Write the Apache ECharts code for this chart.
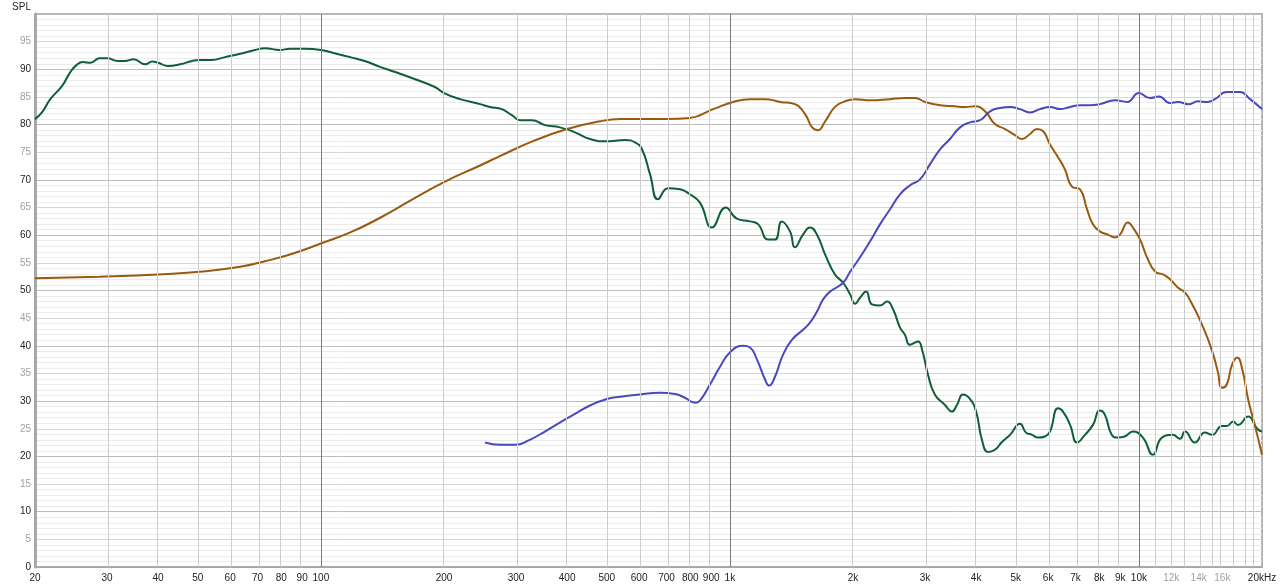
<!DOCTYPE html>
<html>
<head>
<meta charset="utf-8">
<script src="https://cdn.jsdelivr.net/npm/echarts@6/dist/echarts.min.js"></script>
<style>
  html, body { margin: 0; padding: 0; background: #fff; }
  #chart { width: 1280px; height: 587px; }
</style>
</head>
<body>
<div id="chart"></div>
<script>
// frequency ticks along the bottom (Hz) and their labels
const xTickFreqs = [20, 30, 40, 50, 60, 70, 80, 90, 100, 200, 300, 400, 500, 600, 700, 800, 900,
  1000, 2000, 3000, 4000, 5000, 6000, 7000, 8000, 9000, 10000, 12000, 14000, 16000, 20000]
const xTickLabels = ['20', '30', '40', '50', '60', '70', '80', '90', '100', '200', '300', '400', '500', '600', '700', '800', '900',
  '1k', '2k', '3k', '4k', '5k', '6k', '7k', '8k', '9k', '10k', '12k', '14k', '16k', '20kHz']
const fadedLabels = ['12k', '14k', '16k']

// vertical grid lines; decades drawn darker
const gridFreqs = [30, 40, 50, 60, 70, 80, 90, 100, 200, 300, 400, 500, 600, 700, 800, 900,
  1000, 2000, 3000, 4000, 5000, 6000, 7000, 8000, 9000, 10000,
  11000, 12000, 13000, 14000, 15000, 16000, 17000, 18000, 19000]
const decadeFreqs = [100, 1000, 10000]

// woofer (green)
const wooferFreq = [
  20, 20.8, 21.8, 23.3, 24.4, 25.3, 26.2, 27.3, 28.8, 30,
  31.9, 33.2, 34.8, 37.2, 38.7, 40, 42.3, 45.3, 48.4, 50.6,
  54, 58.3, 63.5, 69, 73, 79.4, 84, 91.4, 100, 108,
  118, 128, 140, 152, 170, 190, 200, 219, 245, 259,
  277, 293, 307, 328, 353, 384, 418, 455, 496, 555,
  586, 610, 638, 667, 706, 755, 798, 845, 904, 977,
  1040, 1120, 1172, 1240, 1289, 1340, 1403, 1442, 1509, 1570,
  1633, 1710, 1807, 1892, 1968, 2024, 2081, 2153, 2225, 2330,
  2422, 2506, 2606, 2679, 2754, 2884, 2951, 3050, 3170, 3357,
  3490, 3590, 3715, 3863, 4000, 4133, 4277, 4447, 4625, 4842,
  5119, 5297, 5483, 5669, 5896, 6063, 6344, 6522, 6790, 7063,
  7383, 7722, 8026, 8251, 8583, 8884, 9237, 9668, 10230, 10820,
  11380, 12100, 12600, 12970, 13700, 14500, 15100, 15960, 16400, 17000,
  17460, 18500, 19460, 20000]
const wooferSpl = [
  81, 82.2, 84.6, 87, 89.5, 90.8, 91.3, 91.2, 92, 92,
  91.5, 91.5, 91.8, 90.9, 91.4, 91.2, 90.6, 90.9, 91.5, 91.7,
  91.7, 92.2, 92.8, 93.5, 93.8, 93.5, 93.7, 93.7, 93.5, 92.9,
  92.2, 91.5, 90.4, 89.5, 88.2, 86.8, 85.7, 84.6, 83.7, 83.2,
  82.8, 81.7, 80.8, 80.8, 79.9, 79.5, 78.6, 77.4, 77, 77.2,
  76.8, 75.5, 71, 66.5, 68.5, 68.3, 67.4, 65.9, 61.4, 65,
  63, 62.5, 62, 59.2, 59.2, 62.5, 60.7, 57.8, 60.1, 61.4,
  60.1, 56.5, 52.9, 51.4, 49.3, 47.6, 48.7, 49.8, 47.5, 47.3,
  48, 46.6, 43.3, 42, 40.2, 40.8, 39.3, 34.8, 31.2, 29.3,
  28.1, 29.3, 31.2, 30.4, 28.1, 23, 20.8, 21.2, 22.6, 23.9,
  25.9, 24.3, 23.9, 23.4, 23.6, 24.5, 28.7, 28.1, 25.7, 22.5,
  23.9, 25.7, 28.3, 27.6, 23.9, 23.4, 23.6, 24.5, 23.4, 20.3,
  23.4, 23.9, 23.2, 24.5, 22.5, 24.3, 23.9, 25.5, 25.5, 26.3,
  25.7, 27.2, 25, 24.5]

// midrange (brown)
const midFreq = [
  20, 28.8, 40, 50.6, 63.5, 73, 84, 100, 118, 140,
  165, 200, 245, 274, 330, 400, 481, 540, 702, 798,
  910, 1018, 1120, 1219, 1327, 1442, 1527, 1589, 1642, 1710,
  1807, 1911, 2024, 2202, 2464, 2679, 2836, 3000, 3265, 3550,
  3755, 3973, 4206, 4447, 4710, 4980, 5177, 5419, 5636, 5836,
  6063, 6344, 6594, 6858, 7182, 7466, 7722, 8026, 8398, 8747,
  8993, 9400, 9668, 10070, 10470, 10970, 11460, 11930, 12470, 12970,
  13500, 14100, 14700, 15200, 15600, 15960, 16400, 16900, 17400, 17900,
  18500, 19200, 20000]
const midSpl = [
  52.2, 52.5, 52.9, 53.4, 54.3, 55.3, 56.5, 58.5, 60.5, 63.2,
  66.2, 69.6, 72.6, 74.3, 77, 79.2, 80.6, 81, 81, 81.2,
  82.8, 84.1, 84.6, 84.6, 84.1, 83.7, 81.9, 79.5, 79, 80.6,
  83.2, 84.2, 84.6, 84.4, 84.6, 84.8, 84.8, 84.1, 83.5, 83.3,
  83.2, 83.3, 82.4, 80.1, 79.2, 78.1, 77.4, 78.3, 79.2, 78.8,
  76.4, 74.1, 71.9, 68.8, 68.3, 64.7, 62, 60.7, 60.1, 59.6,
  60.1, 62.3, 61.4, 59.2, 56, 53.4, 52.9, 52, 50.5, 49.6,
  47.5, 44.7, 41.5, 38.4, 35.3, 32.4, 33, 36.6, 37.9, 35.7,
  30.3, 25.7, 20.3]

// tweeter (blue)
const tweeterFreq = [
  252, 274, 298, 324, 353, 384, 418, 455, 496, 540,
  603, 675, 734, 776, 822, 845, 894, 946, 1000, 1077,
  1120, 1165, 1219, 1247, 1289, 1349, 1419, 1509, 1570, 1633,
  1690, 1757, 1892, 1968, 2081, 2202, 2330, 2464, 2606, 2754,
  2916, 3084, 3265, 3452, 3655, 3863, 4090, 4326, 4573, 4842,
  5119, 5419, 5731, 6063, 6416, 6790, 7182, 7594, 8026, 8747,
  9355, 10000, 10640, 11200, 11900, 12470, 13200, 13960, 14700, 15350,
  16400, 17660, 18700, 20000]
const tweeterSpl = [
  22.5, 22.1, 22.1, 23, 24.5, 26.1, 27.7, 29.2, 30.3, 30.8,
  31.2, 31.5, 31.3, 30.6, 29.7, 30.1, 33, 36.2, 38.8, 40,
  39.7, 37.5, 33.9, 32.8, 34.4, 38.4, 41.1, 42.9, 44.2, 46.2,
  48.4, 49.8, 51.4, 53.4, 56, 58.9, 62, 64.7, 67.4, 69,
  70.1, 72.8, 75.5, 77.4, 79.5, 80.4, 80.8, 82.4, 83, 83.2,
  82.8, 82.2, 82.8, 83.2, 82.8, 83.2, 83.5, 83.5, 83.7, 84.4,
  84.1, 85.7, 84.8, 85.1, 83.9, 84.1, 83.7, 84.2, 84.1, 84.6,
  85.9, 85.9, 84.6, 82.8]

const FONT = 'Liberation Sans'
const lg = Math.log10

// x runs in log10(Hz) on a linear value axis
const toPoints = (freqs, spl) => freqs.map((f, i) => [lg(f), spl[i]])

const labelFor = (v) => {
  let best = 0
  xTickFreqs.forEach((f, i) => {
    if (Math.abs(lg(f) - v) < Math.abs(lg(xTickFreqs[best]) - v)) best = i
  })
  return xTickLabels[best]
}

const curve = (name, color, freqs, spl) => ({
  name,
  type: 'line',
  z: 3,
  data: toPoints(freqs, spl),
  symbol: 'none',
  smooth: 0.5,
  lineStyle: { width: 2, color },
  itemStyle: { color },
  emphasis: { disabled: true },
})

const chart = echarts.init(document.getElementById('chart'), null, { renderer: 'canvas' })

chart.setOption({
  animation: false,
  backgroundColor: '#fff',
  grid: {
    left: 35, right: 18, top: 14, bottom: 20,
    show: true, borderColor: '#b4b4b4', borderWidth: 2, backgroundColor: '#fff',
  },
  xAxis: {
    type: 'value',
    min: lg(20),
    max: lg(20000),
    axisLine: { show: true, onZero: false, lineStyle: { color: '#a8a8a8', width: 2 } },
    axisTick: { show: false },
    splitLine: { show: false },
    axisLabel: {
      customValues: xTickFreqs.map(lg),
      margin: 6,
      fontFamily: FONT,
      fontSize: 10,
      formatter: (v) => labelFor(v),
      color: (v) => (fadedLabels.includes(labelFor(v)) ? '#a0a0a0' : '#222'),
    },
  },
  yAxis: {
    type: 'value',
    min: 0,
    max: 100,
    interval: 5,
    name: 'SPL',
    nameLocation: 'end',
    nameGap: 2,
    nameTextStyle: { color: '#222', fontFamily: FONT, fontSize: 10, align: 'right', padding: [0, 4, 0, 0] },
    axisLine: { show: true, lineStyle: { color: '#a8a8a8', width: 3 } },
    axisTick: { show: false },
    minorTick: { show: false, splitNumber: 5 },
    minorSplitLine: { show: true, lineStyle: { color: '#ebebeb', width: 1 } },
    splitLine: { show: true, lineStyle: { color: ['#bdbdbd', '#d6d6d6'], width: 1 } },
    axisLabel: {
      margin: 4,
      fontFamily: FONT,
      fontSize: 10,
      formatter: (v) => (v === 100 ? '' : String(v)),
      color: (v) => (Number(v) % 10 === 0 ? '#222' : '#a0a0a0'),
    },
  },
  series: [
    {
      name: 'grid',
      type: 'line',
      z: 1,
      data: [],
      silent: true,
      markLine: {
        silent: true,
        symbol: ['none', 'none'],
        label: { show: false },
        emphasis: { disabled: true },
        animation: false,
        data: gridFreqs.map((f) => ({
          xAxis: lg(f),
          lineStyle: {
            type: 'solid',
            width: 1,
            color: decadeFreqs.includes(f) ? '#7c7c7c' : '#cdcdcd',
          },
        })),
      },
    },
    curve('Woofer', '#0e5f38', wooferFreq, wooferSpl),
    curve('Mid', '#995a10', midFreq, midSpl),
    curve('Tweeter', '#4a48bb', tweeterFreq, tweeterSpl),
  ],
})
</script>
</body>
</html>
